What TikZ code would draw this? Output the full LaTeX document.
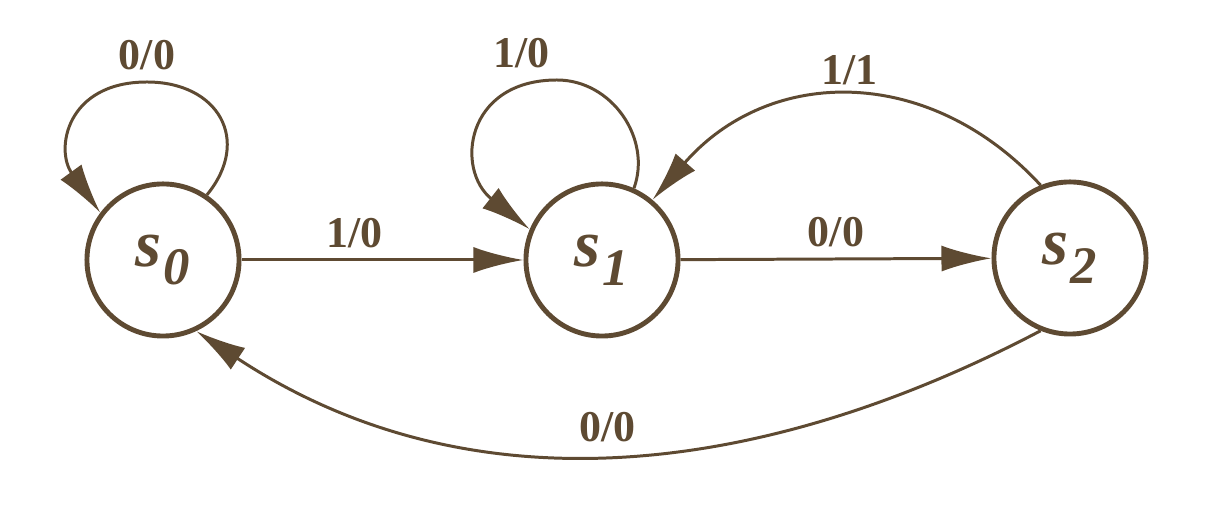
\documentclass[tikz,border=0pt]{standalone}
\usepackage{fontspec}
\setmainfont{Liberation Serif}
\usetikzlibrary{arrows.meta}
\definecolor{fsmbrown}{RGB}{94,74,50}
\newcommand{\stname}[1]{s\kern0.03em\raisebox{-0.28em}{\fontsize{15}{15}\selectfont #1}}
\begin{document}
\begin{tikzpicture}[x=0.01cm, y=-0.01cm,
  state/.style={circle, draw=fsmbrown, line width=1.4pt, minimum size=1.52cm, inner sep=0pt,
    text=fsmbrown, font=\fontsize{19}{19}\selectfont\bfseries\itshape},
  trans/.style={draw=fsmbrown, line width=0.85pt, -{Latex[length=5mm,width=2.6mm]}},
  lbl/.style={text=fsmbrown, font=\fontsize{12.5}{14}\selectfont\bfseries, inner sep=2pt}]

\useasboundingbox (0,0) rectangle (1208,513);

\node[state] (s0) at (163,260) {\stname{0}};
\node[state] (s1) at (602,260) {\stname{1}};
\node[state] (s2) at (1070,258) {\stname{2}};

% self loops
\draw[trans] (s0.56) .. controls (252,140) and (218,82) .. (147,82) node[lbl, above=1pt] {0/0}
  .. controls (66,82) and (55,150) .. (s0.143);
\draw[trans] (s1.66) .. controls (652,139) and (612,80) .. (557,80) node[lbl, above=1pt, xshift=-10] {1/0}
  .. controls (465,80) and (455,170) .. (s1.157);

\draw[trans] (s0) -- (s1) node[lbl, pos=0.4, above=1pt] {1/0};
\draw[trans] (s1) -- (s2) node[lbl, midway, above=1pt] {0/0};

\draw[trans] (s2.112) .. controls (930,65) and (770,65) .. (s1.50) node[lbl, pos=0.5, above=1pt] {1/1};
\draw[trans] (s2.248) .. controls (760,478) and (470,512) .. (s0.295) node[lbl, pos=0.51, above=1pt] {0/0};

\end{tikzpicture}
\end{document}
